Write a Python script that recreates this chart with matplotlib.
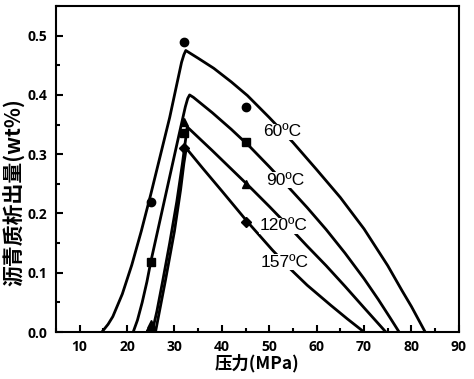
import numpy as np
import matplotlib
matplotlib.use('Agg')
from matplotlib import pyplot as plt
from matplotlib.ticker import MultipleLocator, FormatStrFormatter

plt.rcParams['font.family'] = ['Liberation Sans', 'DejaVu Sans']

# measured points
px = [25, 32, 45]
y60 = [0.22, 0.49, 0.38]
y90 = [0.118, 0.335, 0.32]
y120 = [0.013, 0.355, 0.25]
y157 = [0.003, 0.31, 0.185]

# fitted curves
c60x = [14.7, 16.0, 17.0, 19.0, 21.0, 23.0, 25.0, 27.0, 29.0, 30.5, 31.5, 32.0, 32.4,
        35.0, 38.3, 42.0, 45.4, 50.0, 55.0, 60.0, 65.0, 70.0, 75.0, 78.0, 80.0, 82.9]
c60y = [0.0, 0.013, 0.026, 0.064, 0.113, 0.170, 0.232, 0.297, 0.362, 0.418, 0.455, 0.468, 0.475,
        0.462, 0.445, 0.422, 0.399, 0.362, 0.320, 0.274, 0.227, 0.174, 0.112, 0.070, 0.043, 0.0]
c90x = [21.3, 22.2, 23.2, 24.2, 25.0, 27.0, 29.0, 31.0, 32.3, 32.8, 33.2,
        34.0, 38.0, 42.0, 46.0, 50.0, 54.0, 58.0, 62.0, 66.0, 70.0, 73.0, 75.5, 77.4]
c90y = [0.0, 0.020, 0.050, 0.085, 0.118, 0.190, 0.262, 0.334, 0.380, 0.394, 0.400,
        0.396, 0.370, 0.342, 0.312, 0.279, 0.245, 0.210, 0.173, 0.133, 0.090, 0.055, 0.024, 0.0]
c120x = [25.3, 26.3, 27.5, 29.0, 30.5, 31.7, 32.7,
         33.5, 38.0, 42.0, 46.0, 50.0, 54.0, 58.0, 62.0, 66.0, 70.0, 74.6]
c120y = [0.0, 0.035, 0.085, 0.150, 0.220, 0.285, 0.346,
         0.340, 0.306, 0.275, 0.244, 0.212, 0.179, 0.145, 0.112, 0.077, 0.041, 0.0]
c157x = [26.0, 28.1, 30.0, 31.3, 32.0, 32.5,
         36.0, 40.0, 45.4, 50.7, 54.5, 58.0, 63.0, 66.5, 70.0]
c157y = [0.0, 0.087, 0.170, 0.240, 0.285, 0.310,
         0.276, 0.238, 0.186, 0.138, 0.106, 0.079, 0.045, 0.022, 0.0]

labels = ['60ºC', '90ºC', '120ºC', '157ºC']
lab_x = [52.8, 53.4, 53.0, 53.3]
lab_y = [0.338, 0.256, 0.179, 0.118]

fig = plt.figure(figsize=(4.74, 3.79), dpi=100)
ax = fig.add_axes([0.118, 0.124, 0.850, 0.860])

for cx, cy in [(c60x, c60y), (c90x, c90y), (c120x, c120y), (c157x, c157y)]:
    ax.plot(cx, cy, color='black', lw=2, zorder=2, solid_joinstyle='round')

ax.plot(px, y60, 'o', color='black', ms=6, zorder=3)
ax.plot(px, y90, 's', color='black', ms=5.5, zorder=3)
ax.plot(px, y120, '^', color='black', ms=6, zorder=3)
ax.plot(px, y157, 'D', color='black', ms=5, zorder=3)

for t, x, y in zip(labels, lab_x, lab_y):
    ax.text(x, y, t, fontsize=12.5, ha='center', va='center', zorder=4,
            bbox=dict(facecolor='white', edgecolor='none', pad=0.5))

ax.set_xlim(5, 90)
ax.set_ylim(0, 0.55)
ax.set_xticks(np.arange(10, 91, 10))
ax.xaxis.set_minor_locator(MultipleLocator(5))
ax.yaxis.set_major_locator(MultipleLocator(0.1))
ax.yaxis.set_minor_locator(MultipleLocator(0.05))
ax.yaxis.set_major_formatter(FormatStrFormatter('%.1f'))
ax.tick_params(which='both', direction='in', top=False, right=False, width=1.5)
ax.tick_params(which='major', length=5, labelsize=10, pad=6)
ax.tick_params(which='minor', length=3)
for lab in ax.get_xticklabels() + ax.get_yticklabels():
    lab.set_fontweight('bold')
    lab.set_family(['Open Sans', 'DejaVu Sans'])
for s in ax.spines.values():
    s.set_linewidth(1.5)

ax.set_xlabel('压力(MPa)', fontsize=12.5, fontweight='bold',
              family=['Noto Sans CJK SC', 'DejaVu Sans'], labelpad=0)
ax.set_ylabel('沥青质析出量(wt%)', fontsize=15, fontweight='bold',
              family=['Noto Sans CJK SC', 'DejaVu Sans'])
ax.yaxis.set_label_coords(-0.075, 0.43)

fig.savefig('out.png', dpi=100)
